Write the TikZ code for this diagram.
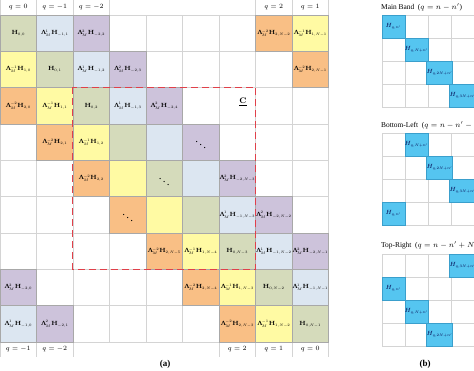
\RequirePackage{fix-cm}
\documentclass[tikz,border=0pt]{standalone}
\usepackage[no-math]{fontspec}
\setmainfont{Liberation Serif}
\usepackage{amsmath}
\DeclareMathSizes{6}{6}{3.6}{2.8}
\definecolor{cgreen}{HTML}{D5DBBB}
\definecolor{cblue}{HTML}{DCE6F1}
\definecolor{cpurple}{HTML}{CDC3DB}
\definecolor{cyellow}{HTML}{FFFAA3}
\definecolor{corange}{HTML}{F9BF85}
\definecolor{gridgray}{HTML}{D4D4D4}
\definecolor{cellborder}{HTML}{A8A8A8}
\definecolor{bandblue}{HTML}{55C5F0}
\definecolor{bandborder}{HTML}{3A9FCC}
\definecolor{dashred}{HTML}{E0404A}
\newcommand{\LHm}[3]{$\mathbf{\Lambda}^{\!#1}_{\!M}\mathbf{H}_{#2,#3}$}
\newcommand{\HHm}[2]{$\mathbf{H}_{#1,#2}$}
\newcommand{\Hq}[1]{$H_{q,#1}$}
\begin{document}
\begin{tikzpicture}[x=1pt,y=-1pt,
  cell/.style={draw=cellborder,line width=0.4pt,minimum width=36.5pt,minimum height=36.33pt,inner sep=0pt,font=\fontsize{6}{7}\selectfont},
  qlab/.style={font=\fontsize{6.5}{7}\selectfont,inner sep=0pt},
  bcell/.style={draw=bandborder,fill=bandblue,line width=0.4pt,minimum width=23pt,minimum height=23pt,inner sep=0pt,font=\fontsize{6}{7}\selectfont,text=black!70!blue},
  ttl/.style={anchor=west,inner sep=0pt,font=\fontsize{7.4}{8}\selectfont},
  grl/.style={draw=gridgray,line width=0.5pt}]
\useasboundingbox (0,0) rectangle (474,370);
% main grid
\foreach \i in {0,...,9}{
  \draw[grl] ({36.5*\i},15) -- ({36.5*\i},342);
  \draw[grl] (0,{15+36.33*\i}) -- (328.5,{15+36.33*\i});
}
% header column lines
\foreach \x in {0,36.5,73,109.5,255.5,292,328.5}{\draw[grl] (\x,0) -- (\x,15);}
\foreach \x in {0,36.5,73,219,255.5,292,328.5}{\draw[grl] (\x,342) -- (\x,357);}
% cells
\foreach \r/\c/\f/\t in {
 0/0/cgreen/{\HHm{0}{0}}, 0/1/cblue/{\LHm{1}{-1}{1}}, 0/2/cpurple/{\LHm{2}{-2}{2}}, 0/7/corange/{\LHm{-2}{2}{N-2}}, 0/8/cyellow/{\LHm{-1}{1}{N-1}},
 1/0/cyellow/{\LHm{-1}{1}{0}}, 1/1/cgreen/{\HHm{0}{1}}, 1/2/cblue/{\LHm{1}{-1}{2}}, 1/3/cpurple/{\LHm{2}{-2}{3}}, 1/8/corange/{\LHm{-2}{2}{N-1}},
 2/0/corange/{\LHm{-2}{2}{0}}, 2/1/cyellow/{\LHm{-1}{1}{1}}, 2/2/cgreen/{\HHm{0}{2}}, 2/3/cblue/{\LHm{1}{-1}{3}}, 2/4/cpurple/{\LHm{2}{-2}{4}},
 3/1/corange/{\LHm{-2}{2}{1}}, 3/2/cyellow/{\LHm{-1}{1}{2}}, 3/3/cgreen/{}, 3/4/cblue/{}, 3/5/cpurple/{\fontsize{11}{12}\selectfont$\ddots$},
 4/2/corange/{\LHm{-2}{2}{2}}, 4/3/cyellow/{}, 4/4/cgreen/{\fontsize{11}{12}\selectfont$\ddots$}, 4/5/cblue/{}, 4/6/cpurple/{\LHm{2}{-2}{N-3}},
 5/3/corange/{\fontsize{11}{12}\selectfont$\ddots$}, 5/4/cyellow/{}, 5/5/cgreen/{}, 5/6/cblue/{\LHm{1}{-1}{N-3}}, 5/7/cpurple/{\LHm{2}{-2}{N-2}},
 6/4/corange/{\LHm{-2}{2}{N-5}}, 6/5/cyellow/{\LHm{-1}{1}{N-4}}, 6/6/cgreen/{\HHm{0}{N-3}}, 6/7/cblue/{\LHm{1}{-1}{N-2}}, 6/8/cpurple/{\LHm{2}{-2}{N-1}},
 7/0/cpurple/{\LHm{2}{-2}{0}}, 7/5/corange/{\LHm{-2}{2}{N-4}}, 7/6/cyellow/{\LHm{-1}{1}{N-3}}, 7/7/cgreen/{\HHm{0}{N-2}}, 7/8/cblue/{\LHm{1}{-1}{N-1}},
 8/0/cblue/{\LHm{1}{-1}{0}}, 8/1/cpurple/{\LHm{2}{-2}{1}}, 8/6/corange/{\LHm{-2}{2}{N-3}}, 8/7/cyellow/{\LHm{-1}{1}{N-2}}, 8/8/cgreen/{\HHm{0}{N-1}}}
{ \node[cell,fill=\f] (m\r-\c) at ({18.25+36.5*\c},{33.17+36.33*\r}) {\t}; }
% header labels
\node[qlab] (t0) at (18.25,7.5) {$q=0$};
\node[qlab] (t1) at (54.75,7.5) {$q=-1$};
\node[qlab] (t2) at (91.25,7.5) {$q=-2$};
\node[qlab] (t7) at (273.75,7.5) {$q=2$};
\node[qlab] (t8) at (310.25,7.5) {$q=1$};
\node[qlab] (b0) at (18.25,349.5) {$q=-1$};
\node[qlab] (b1) at (54.75,349.5) {$q=-2$};
\node[qlab] (b6) at (237.25,349.5) {$q=2$};
\node[qlab] (b7) at (273.75,349.5) {$q=1$};
\node[qlab] (b8) at (310.25,349.5) {$q=0$};
% dashed C block
\draw[dashred,line width=1.3pt,dash pattern=on 7pt off 4pt] (m2-2.north west) rectangle (m6-6.south east);
\node[inner sep=0pt,font=\fontsize{8}{9}\selectfont] (clab) at (243,102) {$\underline{\mathbf{C}}$};
\node[inner sep=0pt,font=\bfseries\fontsize{9}{10}\selectfont] (la) at (165,364) {(a)};
% panel (b)
\foreach \gy/\name in {15/mb,133/bl,254/tr}{
  \foreach \i in {0,...,4}{
    \draw[grl] ({382+23*\i},\gy) -- ({382+23*\i},{\gy+92});
    \draw[grl] (382,{\gy+23*\i}) -- (474,{\gy+23*\i});
  }
}
\node[ttl] (ttlmb) at (381,7) {Main Band\ \ ($q=n-n'$)};
\node[ttl] (ttlbl) at (381,125) {Bottom-Left\ \ ($q=n-n'-N$)};
\node[ttl] (ttltr) at (381,245) {Top-Right\ \ ($q=n-n'+N$)};
\foreach \g/\gy/\r/\c/\t in {
  mb/15/0/0/{\Hq{n'}}, mb/15/1/1/{\Hq{N+n'}}, mb/15/2/2/{\Hq{2N+n'}}, mb/15/3/3/{\Hq{3N+n'}},
  bl/133/0/1/{\Hq{N+n'}}, bl/133/1/2/{\Hq{2N+n'}}, bl/133/2/3/{\Hq{3N+n'}}, bl/133/3/0/{\Hq{n'}},
  tr/254/0/3/{\Hq{3N+n'}}, tr/254/1/0/{\Hq{n'}}, tr/254/2/1/{\Hq{N+n'}}, tr/254/3/2/{\Hq{2N+n'}}}
{ \node[bcell] (\g\r-\c) at ({393.5+23*\c},{\gy+11.5+23*\r}) {\t}; }
\node[inner sep=0pt,font=\bfseries\fontsize{9}{10}\selectfont] (lb) at (425,364) {(b)};
\end{tikzpicture}
\end{document}
